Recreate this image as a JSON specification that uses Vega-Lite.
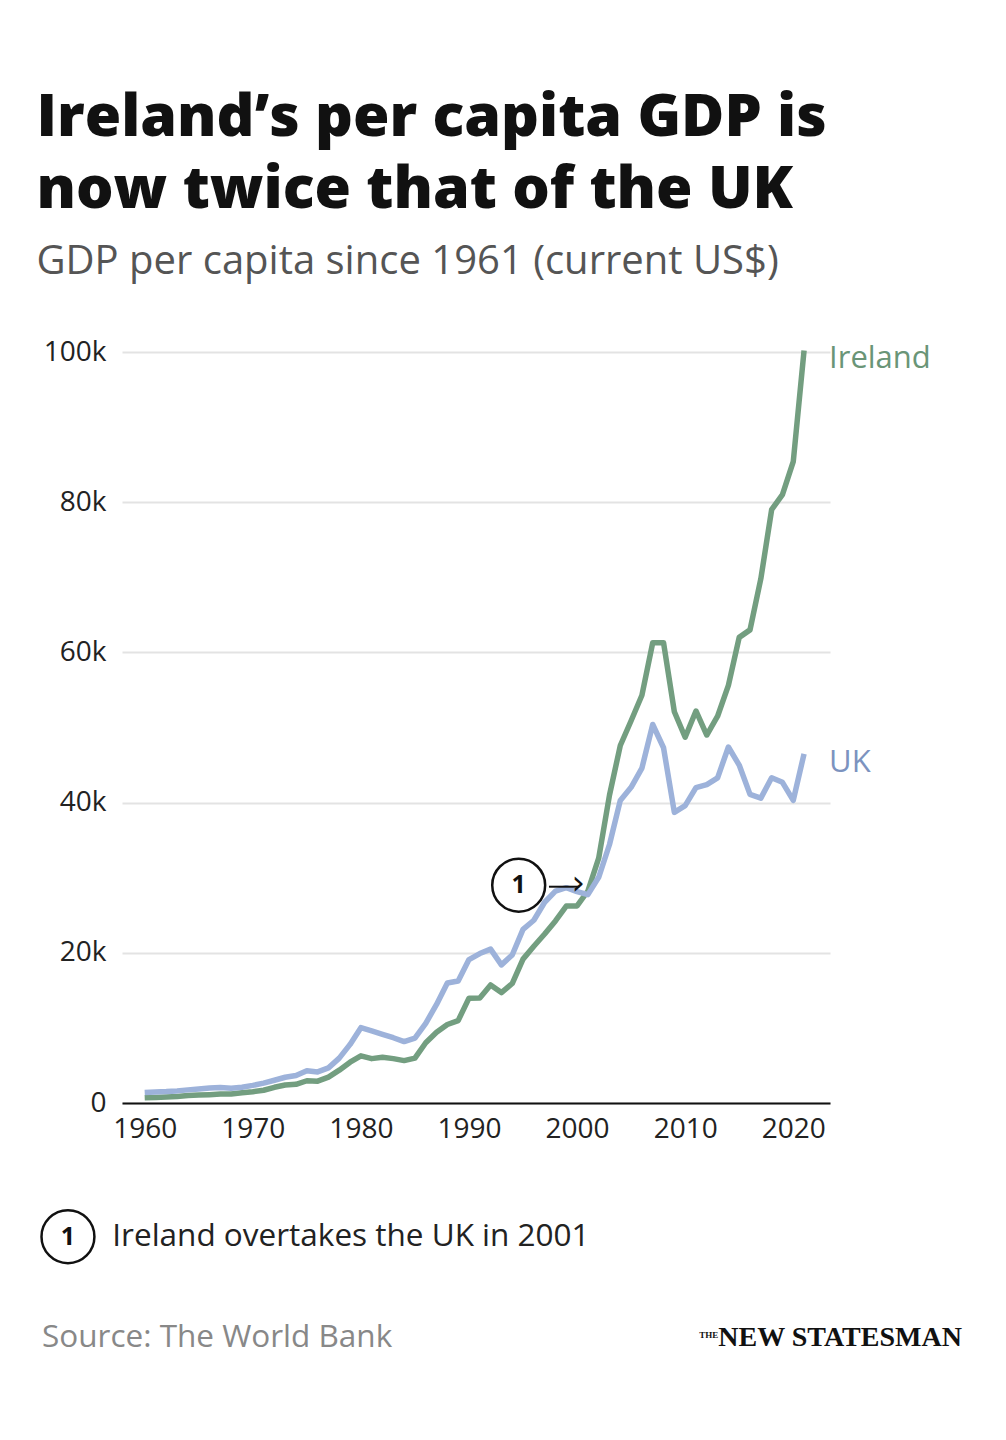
{
  "$schema": "https://vega.github.io/schema/vega-lite/v6.json",
  "width": 708,
  "height": 751,
  "autosize": {"type": "none"},
  "padding": {"left": 122, "top": 352, "right": 176, "bottom": 337},
  "background": "white",
  "config": {"view": {"stroke": null}, "font": "Open Sans"},
  "title": {
    "text": ["Ireland’s per capita GDP is", "now twice that of the UK"],
    "subtitle": "GDP per capita since 1961 (current US$)",
    "anchor": "start",
    "frame": "bounds",
    "font": "Open Sans",
    "fontSize": 59,
    "fontWeight": 800,
    "lineHeight": 72,
    "color": "#111",
    "subtitleFont": "Open Sans",
    "subtitleFontSize": 40,
    "subtitleColor": "#555",
    "subtitlePadding": 22,
    "offset": 56
  },
  "datasets": {
    "gdp": [
      {"year":1960,"country":"Ireland","v":686},{"year":1961,"country":"Ireland","v":737},{"year":1962,"country":"Ireland","v":795},{"year":1963,"country":"Ireland","v":860},{"year":1964,"country":"Ireland","v":986},{"year":1965,"country":"Ireland","v":1056},{"year":1966,"country":"Ireland","v":1111},{"year":1967,"country":"Ireland","v":1189},{"year":1968,"country":"Ireland","v":1202},{"year":1969,"country":"Ireland","v":1359},{"year":1970,"country":"Ireland","v":1498},{"year":1971,"country":"Ireland","v":1700},{"year":1972,"country":"Ireland","v":2091},{"year":1973,"country":"Ireland","v":2394},{"year":1974,"country":"Ireland","v":2488},{"year":1975,"country":"Ireland","v":2964},{"year":1976,"country":"Ireland","v":2910},{"year":1977,"country":"Ireland","v":3444},{"year":1978,"country":"Ireland","v":4372},{"year":1979,"country":"Ireland","v":5428},{"year":1980,"country":"Ireland","v":6285},{"year":1981,"country":"Ireland","v":5907},{"year":1982,"country":"Ireland","v":6082},{"year":1983,"country":"Ireland","v":5911},{"year":1984,"country":"Ireland","v":5643},{"year":1985,"country":"Ireland","v":5976},{"year":1986,"country":"Ireland","v":8021},{"year":1987,"country":"Ireland","v":9412},{"year":1988,"country":"Ireland","v":10447},{"year":1989,"country":"Ireland","v":10975},{"year":1990,"country":"Ireland","v":13960},{"year":1991,"country":"Ireland","v":13995},{"year":1992,"country":"Ireland","v":15720},{"year":1993,"country":"Ireland","v":14700},{"year":1994,"country":"Ireland","v":15910},{"year":1995,"country":"Ireland","v":19160},{"year":1996,"country":"Ireland","v":20870},{"year":1997,"country":"Ireland","v":22500},{"year":1998,"country":"Ireland","v":24250},{"year":1999,"country":"Ireland","v":26230},{"year":2000,"country":"Ireland","v":26240},{"year":2001,"country":"Ireland","v":28230},{"year":2002,"country":"Ireland","v":32600},{"year":2003,"country":"Ireland","v":41000},{"year":2004,"country":"Ireland","v":47600},{"year":2005,"country":"Ireland","v":50900},{"year":2006,"country":"Ireland","v":54300},{"year":2007,"country":"Ireland","v":61300},{"year":2008,"country":"Ireland","v":61300},{"year":2009,"country":"Ireland","v":52100},{"year":2010,"country":"Ireland","v":48700},{"year":2011,"country":"Ireland","v":52200},{"year":2012,"country":"Ireland","v":49000},{"year":2013,"country":"Ireland","v":51500},{"year":2014,"country":"Ireland","v":55600},{"year":2015,"country":"Ireland","v":62000},{"year":2016,"country":"Ireland","v":63000},{"year":2017,"country":"Ireland","v":69800},{"year":2018,"country":"Ireland","v":79000},{"year":2019,"country":"Ireland","v":81000},{"year":2020,"country":"Ireland","v":85400},{"year":2021,"country":"Ireland","v":100200},
      {"year":1960,"country":"UK","v":1398},{"year":1961,"country":"UK","v":1472},{"year":1962,"country":"UK","v":1525},{"year":1963,"country":"UK","v":1613},{"year":1964,"country":"UK","v":1748},{"year":1965,"country":"UK","v":1874},{"year":1966,"country":"UK","v":1987},{"year":1967,"country":"UK","v":2059},{"year":1968,"country":"UK","v":1952},{"year":1969,"country":"UK","v":2101},{"year":1970,"country":"UK","v":2348},{"year":1971,"country":"UK","v":2649},{"year":1972,"country":"UK","v":3030},{"year":1973,"country":"UK","v":3426},{"year":1974,"country":"UK","v":3665},{"year":1975,"country":"UK","v":4300},{"year":1976,"country":"UK","v":4139},{"year":1977,"country":"UK","v":4681},{"year":1978,"country":"UK","v":5977},{"year":1979,"country":"UK","v":7804},{"year":1980,"country":"UK","v":10032},{"year":1981,"country":"UK","v":9599},{"year":1982,"country":"UK","v":9146},{"year":1983,"country":"UK","v":8692},{"year":1984,"country":"UK","v":8180},{"year":1985,"country":"UK","v":8652},{"year":1986,"country":"UK","v":10611},{"year":1987,"country":"UK","v":13119},{"year":1988,"country":"UK","v":15987},{"year":1989,"country":"UK","v":16239},{"year":1990,"country":"UK","v":19095},{"year":1991,"country":"UK","v":19900},{"year":1992,"country":"UK","v":20487},{"year":1993,"country":"UK","v":18389},{"year":1994,"country":"UK","v":19709},{"year":1995,"country":"UK","v":23123},{"year":1996,"country":"UK","v":24332},{"year":1997,"country":"UK","v":26734},{"year":1998,"country":"UK","v":28214},{"year":1999,"country":"UK","v":28669},{"year":2000,"country":"UK","v":28150},{"year":2001,"country":"UK","v":27744},{"year":2002,"country":"UK","v":30057},{"year":2003,"country":"UK","v":34419},{"year":2004,"country":"UK","v":40290},{"year":2005,"country":"UK","v":42030},{"year":2006,"country":"UK","v":44600},{"year":2007,"country":"UK","v":50400},{"year":2008,"country":"UK","v":47300},{"year":2009,"country":"UK","v":38700},{"year":2010,"country":"UK","v":39600},{"year":2011,"country":"UK","v":42000},{"year":2012,"country":"UK","v":42400},{"year":2013,"country":"UK","v":43300},{"year":2014,"country":"UK","v":47400},{"year":2015,"country":"UK","v":45000},{"year":2016,"country":"UK","v":41100},{"year":2017,"country":"UK","v":40600},{"year":2018,"country":"UK","v":43300},{"year":2019,"country":"UK","v":42700},{"year":2020,"country":"UK","v":40300},{"year":2021,"country":"UK","v":46500}
    ]
  },
  "layer": [
    {
      "data": {"name": "gdp"},
      "mark": {"type": "line", "strokeWidth": 5.5, "strokeJoin": "round"},
      "encoding": {
        "x": {"field": "year", "type": "quantitative",
          "scale": {"domain": [1957.9, 2023.4], "nice": false, "zero": false},
          "axis": {"values": [1960,1970,1980,1990,2000,2010,2020], "format": "d", "title": null, "grid": false,
            "domainColor": "#111", "domainWidth": 2, "ticks": false, "labelFontSize": 28, "labelColor": "#222", "labelPadding": 12, "labelFont": "Open Sans"}},
        "y": {"field": "v", "type": "quantitative",
          "scale": {"domain": [0, 100000], "nice": false},
          "axis": {"values": [0,20000,40000,60000,80000,100000], "title": null, "domain": false, "ticks": false,
            "labelExpr": "datum.value == 0 ? '0' : datum.value/1000 + 'k'",
            "gridColor": "#e3e3e3", "gridWidth": 2, "labelFontSize": 28, "labelColor": "#222", "labelPadding": 16, "labelFont": "Open Sans"}},
        "color": {"field": "country", "type": "nominal",
          "scale": {"domain": ["Ireland", "UK"], "range": ["#739e80", "#9db2da"]}, "legend": null},
        "order": {"field": "year"}
      }
    },
    {
      "data": {"values": [{"year": 2021, "v": 100200, "label": "Ireland", "c": "#6a9577"}, {"year": 2021, "v": 46500, "label": "UK", "c": "#7c93bf"}]},
      "mark": {"type": "text", "align": "left", "dx": 25, "dy": 9, "fontSize": 31, "font": "Open Sans"},
      "encoding": {"x": {"field": "year", "type": "quantitative"}, "y": {"field": "v", "type": "quantitative"},
        "text": {"field": "label"}, "color": {"field": "c", "type": "nominal", "scale": null}}
    },
    {
      "data": {"values": [{"x1": 1997.4, "x2": 2000.2, "v": 28800}]},
      "mark": {"type": "rule", "strokeWidth": 2, "color": "#111"},
      "encoding": {"x": {"field": "x1", "type": "quantitative"}, "x2": {"field": "x2"}, "y": {"field": "v", "type": "quantitative"}}
    },
    {
      "data": {"values": [{"x": 2000.4, "v": 28800}]},
      "mark": {"type": "text", "text": "›", "fontSize": 34, "dy": -3, "dx": -3, "color": "#111", "font": "DejaVu Sans"},
      "encoding": {"x": {"field": "x", "type": "quantitative"}, "y": {"field": "v", "type": "quantitative"}}
    },
    {
      "data": {"values": [{"x": 1994.6, "v": 29000}, {"x": 1952.9, "v": -17800}]},
      "mark": {"type": "point", "size": 2800, "filled": true, "fill": "white", "stroke": "#111", "strokeWidth": 2.5, "opacity": 1},
      "encoding": {"x": {"field": "x", "type": "quantitative"}, "y": {"field": "v", "type": "quantitative"}}
    },
    {
      "data": {"values": [{"x": 1994.6, "v": 29000}, {"x": 1952.9, "v": -17800}]},
      "mark": {"type": "text", "text": "1", "fontSize": 25, "fontWeight": "bold", "color": "#111", "font": "Open Sans"},
      "encoding": {"x": {"field": "x", "type": "quantitative"}, "y": {"field": "v", "type": "quantitative"}}
    },
    {
      "data": {"values": [{"x": 1957.0, "v": -17800, "t": "Ireland overtakes the UK in 2001"}]},
      "mark": {"type": "text", "align": "left", "baseline": "middle", "fontSize": 31.5, "color": "#222", "font": "Open Sans"},
      "encoding": {"x": {"field": "x", "type": "quantitative"}, "y": {"field": "v", "type": "quantitative"}, "text": {"field": "t"}}
    },
    {
      "data": {"values": [{"x": 1950.5, "v": -31300, "t": "Source: The World Bank"}]},
      "mark": {"type": "text", "align": "left", "baseline": "middle", "fontSize": 31.5, "color": "#888", "font": "Open Sans"},
      "encoding": {"x": {"field": "x", "type": "quantitative"}, "y": {"field": "v", "type": "quantitative"}, "text": {"field": "t"}}
    },
    {
      "data": {"values": [{"x": 2035.6, "v": -31300, "t": "NEW STATESMAN"}]},
      "mark": {"type": "text", "align": "right", "baseline": "middle", "fontSize": 28, "color": "#111", "font": "Liberation Serif", "fontWeight": "bold"},
      "encoding": {"x": {"field": "x", "type": "quantitative"}, "y": {"field": "v", "type": "quantitative"}, "text": {"field": "t"}}
    },
    {
      "data": {"values": [{"x": 2013.7, "v": -30900, "t": "THE"}]},
      "mark": {"type": "text", "align": "right", "baseline": "middle", "fontSize": 9, "color": "#111", "font": "Liberation Serif", "fontWeight": "bold", "dx": -7},
      "encoding": {"x": {"field": "x", "type": "quantitative"}, "y": {"field": "v", "type": "quantitative"}, "text": {"field": "t"}}
    }
  ]
}
